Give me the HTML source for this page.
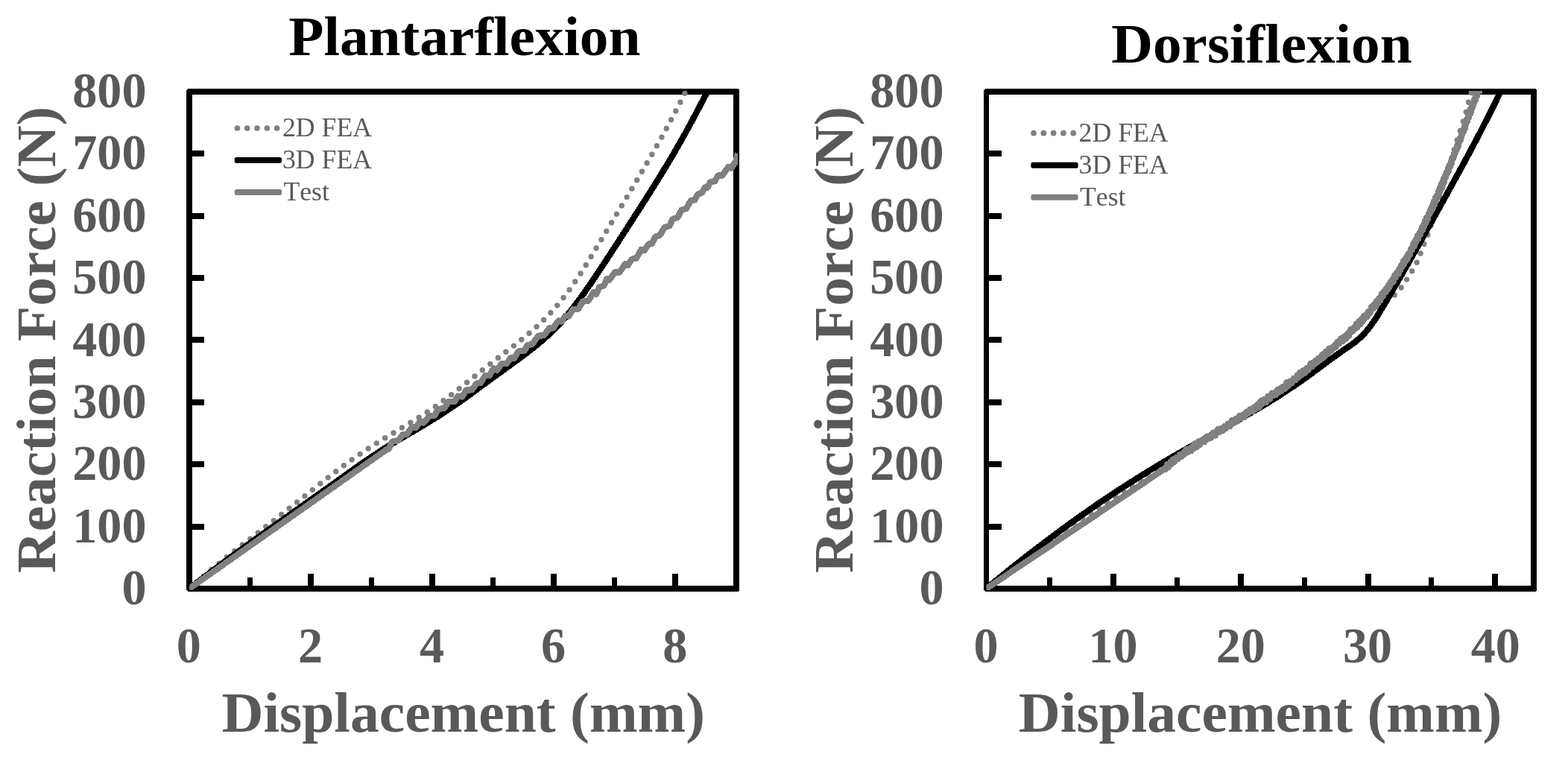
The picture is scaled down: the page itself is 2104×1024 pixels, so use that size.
<!DOCTYPE html>
<html lang="en">
<head>
<meta charset="utf-8">
<title>Plantarflexion and Dorsiflexion: Reaction Force vs Displacement</title>
<style>
html,body{margin:0;padding:0;background:#fff;}
body{width:2104px;height:1024px;overflow:hidden;}
svg{display:block;font-family:"Liberation Serif","Times New Roman",Times,serif;font-kerning:none;font-variant-ligatures:common-ligatures;}
</style>
</head>
<body>
<svg width="2104" height="1024" viewBox="0 0 2104 1024">
<rect width="2104" height="1024" fill="#fff"/>
<g>
<text transform="translate(623.4,74) scale(1,0.97)" font-size="77.3" font-weight="bold" fill="#000" text-anchor="middle">Plantarflexion</text>
<text transform="translate(74,455.8) rotate(-90) scale(1,0.97)" font-size="77.25" font-weight="bold" fill="#595959" text-anchor="middle">Reaction Force (N)</text>
<text transform="translate(621.7,982) scale(1,0.97)" font-size="77.6" font-weight="bold" fill="#595959" text-anchor="middle">Displacement (mm)</text>
<text transform="translate(196.5,811.0) scale(1,1.03)" font-size="66.2" font-weight="bold" fill="#595959" text-anchor="end">0</text>
<text transform="translate(196.5,727.6) scale(1,1.03)" font-size="66.2" font-weight="bold" fill="#595959" text-anchor="end">100</text>
<text transform="translate(196.5,644.2) scale(1,1.03)" font-size="66.2" font-weight="bold" fill="#595959" text-anchor="end">200</text>
<text transform="translate(196.5,560.9) scale(1,1.03)" font-size="66.2" font-weight="bold" fill="#595959" text-anchor="end">300</text>
<text transform="translate(196.5,477.5) scale(1,1.03)" font-size="66.2" font-weight="bold" fill="#595959" text-anchor="end">400</text>
<text transform="translate(196.5,394.1) scale(1,1.03)" font-size="66.2" font-weight="bold" fill="#595959" text-anchor="end">500</text>
<text transform="translate(196.5,310.8) scale(1,1.03)" font-size="66.2" font-weight="bold" fill="#595959" text-anchor="end">600</text>
<text transform="translate(196.5,227.4) scale(1,1.03)" font-size="66.2" font-weight="bold" fill="#595959" text-anchor="end">700</text>
<text transform="translate(196.5,144.0) scale(1,1.03)" font-size="66.2" font-weight="bold" fill="#595959" text-anchor="end">800</text>
<text transform="translate(236.8,889.2) scale(1,1.03)" font-size="66.2" font-weight="bold" fill="#595959">0</text>
<text transform="translate(399.9,889.2) scale(1,1.03)" font-size="66.2" font-weight="bold" fill="#595959">2</text>
<text transform="translate(563.1,889.2) scale(1,1.03)" font-size="66.2" font-weight="bold" fill="#595959">4</text>
<text transform="translate(725.9,889.2) scale(1,1.03)" font-size="66.2" font-weight="bold" fill="#595959">6</text>
<text transform="translate(889.2,889.2) scale(1,1.03)" font-size="66.2" font-weight="bold" fill="#595959">8</text>
<g shape-rendering="crispEdges" fill="#000">
<path fill-rule="evenodd" d="M250,121 L252,119 H990 L992,121 V792 L990,794 H252 L250,792 Z M258,127 V786 H984 V127 Z"/>
<rect x="254" y="703" width="20" height="8"/>
<rect x="254" y="619" width="20" height="8"/>
<rect x="254" y="536" width="20" height="8"/>
<rect x="254" y="452" width="20" height="8"/>
<rect x="254" y="369" width="20" height="8"/>
<rect x="254" y="286" width="20" height="8"/>
<rect x="254" y="202" width="20" height="8"/>
<rect x="413" y="770" width="8" height="18"/>
<rect x="576" y="770" width="8" height="18"/>
<rect x="739" y="770" width="8" height="18"/>
<rect x="902" y="770" width="8" height="18"/>
<rect x="332" y="775" width="7" height="13"/>
<rect x="495" y="775" width="7" height="13"/>
<rect x="658" y="775" width="7" height="13"/>
<rect x="821" y="775" width="7" height="13"/>
</g>
<clipPath id="clip0"><rect x="254.0" y="122" width="736.0" height="670"/></clipPath>
<g clip-path="url(#clip0)" fill="none" shape-rendering="crispEdges">
<path d="M918.9,125.3 L917.8,127.5 L916.7,129.7 L915.6,132.0 L914.4,134.2 L913.3,136.4 L912.2,138.6 L911.1,140.8 L909.9,143.0 L908.8,145.2 L907.6,147.4 L906.5,149.5 L905.3,151.7 L904.2,153.9 L903.0,156.1 L901.9,158.3 L900.7,160.4 L899.6,162.6 L898.4,164.8 L897.2,166.9 L896.1,169.1 L894.9,171.3 L893.7,173.4 L892.5,175.6 L891.3,177.7 L890.2,179.9 L889.0,182.0 L887.8,184.2 L886.6,186.3 L885.4,188.4 L884.2,190.6 L883.0,192.7 L881.8,194.8 L880.6,197.0 L879.4,199.1 L878.2,201.2 L877.0,203.3 L875.8,205.5 L874.6,207.6 L873.3,209.7 L872.1,211.8 L870.9,213.9 L869.7,216.0 L868.5,218.2 L867.2,220.3 L866.0,222.4 L864.8,224.5 L863.6,226.6 L862.3,228.7 L861.1,230.8 L859.9,232.9 L858.6,235.0 L857.4,237.1 L856.2,239.2 L854.9,241.3 L853.7,243.4 L852.5,245.5 L851.2,247.6 L850.0,249.6 L848.7,251.7 L847.5,253.8 L846.2,255.9 L845.0,258.0 L843.8,260.1 L842.5,262.2 L841.3,264.3 L840.0,266.3 L838.8,268.4 L837.5,270.5 L836.3,272.6 L835.0,274.7 L833.8,276.8 L832.5,278.8 L831.3,280.9 L830.0,283.0 L828.8,285.1 L827.5,287.2 L826.3,289.3 L825.0,291.3 L823.8,293.4 L822.5,295.5 L821.3,297.6 L820.0,299.7 L818.8,301.7 L817.5,303.8 L816.3,305.9 L815.0,308.0 L813.8,310.1 L812.5,312.1 L811.3,314.2 L810.0,316.3 L808.8,318.4 L807.5,320.5 L806.3,322.6 L805.0,324.7 L803.8,326.7 L802.5,328.8 L801.3,330.9 L800.0,333.0 L798.8,335.1 L797.5,337.2 L796.3,339.2 L795.0,341.3 L793.8,343.4 L792.5,345.5 L791.2,347.5 L790.0,349.6 L788.7,351.7 L787.4,353.7 L786.2,355.8 L784.9,357.8 L783.6,359.9 L782.3,361.9 L781.0,364.0 L779.7,366.0 L778.4,368.0 L777.1,370.0 L775.7,372.0 L774.4,374.0 L773.1,376.0 L771.7,378.0 L770.4,380.0 L769.0,382.0 L767.6,383.9 L766.3,385.9 L764.9,387.8 L763.5,389.7 L762.1,391.7 L760.6,393.6 L759.2,395.5 L757.8,397.4 L756.3,399.2 L754.8,401.1 L753.4,403.0 L751.9,404.8 L750.4,406.6 L748.9,408.5 L747.3,410.3 L745.8,412.0 L744.2,413.8 L742.7,415.6 L741.1,417.3 L739.5,419.1 L737.9,420.8 L736.3,422.5 L734.6,424.2 L733.0,425.9 L731.3,427.6 L729.7,429.2 L728.0,430.9 L726.3,432.5 L724.6,434.2 L722.9,435.8 L721.2,437.4 L719.4,439.0 L717.7,440.6 L715.9,442.2 L714.2,443.7 L712.4,445.3 L710.6,446.8 L708.8,448.4 L707.0,449.9 L705.2,451.4 L703.4,452.9 L701.5,454.4 L699.7,455.9 L697.8,457.4 L696.0,458.9 L694.1,460.4 L692.3,461.8 L690.4,463.3 L688.5,464.8 L686.7,466.2 L684.8,467.7 L682.9,469.1 L681.0,470.6 L679.1,472.0 L677.3,473.5 L675.4,474.9 L673.5,476.4 L671.6,477.8 L669.7,479.3 L667.8,480.7 L665.9,482.1 L664.0,483.6 L662.2,485.0 L660.3,486.5 L658.4,487.9 L656.5,489.4 L654.7,490.9 L652.8,492.3 L650.9,493.8 L649.1,495.3 L647.2,496.8 L645.4,498.2 L643.5,499.7 L641.7,501.2 L639.8,502.7 L637.9,504.2 L636.1,505.6 L634.2,507.1 L632.4,508.6 L630.5,510.1 L628.7,511.6 L626.8,513.0 L625.0,514.5 L623.1,516.0 L621.3,517.5 L619.4,519.0 L617.6,520.4 L615.7,521.9 L613.8,523.4 L612.0,524.8 L610.1,526.3 L608.2,527.7 L606.3,529.2 L604.4,530.6 L602.6,532.1 L600.7,533.5 L598.8,534.9 L596.9,536.4 L594.9,537.8 L593.0,539.2 L591.1,540.6 L589.2,542.0 L587.2,543.4 L585.3,544.8 L583.3,546.2 L581.4,547.5 L579.4,548.9 L577.4,550.3 L575.4,551.6 L573.4,552.9 L571.4,554.3 L569.4,555.6 L567.4,556.9 L565.4,558.2 L563.3,559.5 L561.3,560.8 L559.2,562.0 L557.2,563.3 L555.1,564.6 L553.0,565.9 L551.0,567.1 L548.9,568.4 L546.8,569.6 L544.7,570.9 L542.6,572.1 L540.6,573.4 L538.5,574.6 L536.4,575.9 L534.3,577.1 L532.2,578.4 L530.1,579.6 L528.1,580.9 L526.0,582.1 L523.9,583.4 L521.8,584.6 L519.8,585.9 L517.7,587.2 L515.6,588.4 L513.6,589.7 L511.5,591.0 L509.4,592.3 L507.4,593.5 L505.4,594.8 L503.3,596.1 L501.3,597.4 L499.2,598.7 L497.2,600.0 L495.2,601.3 L493.2,602.6 L491.2,603.9 L489.1,605.3 L487.1,606.6 L485.1,607.9 L483.2,609.3 L481.2,610.6 L479.2,612.0 L477.2,613.3 L475.3,614.7 L473.3,616.1 L471.3,617.5 L469.4,618.9 L467.5,620.2 L465.5,621.6 L463.6,623.1 L461.7,624.5 L459.8,625.9 L457.9,627.3 L456.0,628.7 L454.1,630.2 L452.2,631.6 L450.3,633.1 L448.4,634.5 L446.5,636.0 L444.6,637.4 L442.8,638.9 L440.9,640.3 L439.0,641.8 L437.2,643.3 L435.3,644.7 L433.4,646.2 L431.6,647.7 L429.7,649.1 L427.8,650.6 L426.0,652.1 L424.1,653.6 L422.3,655.0 L420.4,656.5 L418.6,658.0 L416.7,659.5 L414.8,660.9 L413.0,662.4 L411.1,663.9 L409.3,665.4 L407.4,666.8 L405.6,668.3 L403.7,669.8 L401.9,671.3 L400.0,672.8 L398.2,674.2 L396.3,675.7 L394.4,677.2 L392.6,678.7 L390.7,680.1 L388.9,681.6 L387.0,683.1 L385.1,684.6 L383.3,686.0 L381.4,687.5 L379.6,689.0 L377.7,690.4 L375.8,691.9 L374.0,693.4 L372.1,694.8 L370.2,696.3 L368.4,697.8 L366.5,699.2 L364.6,700.7 L362.7,702.1 L360.9,703.6 L359.0,705.1 L357.1,706.5 L355.3,708.0 L353.4,709.4 L351.5,710.9 L349.6,712.3 L347.8,713.8 L345.9,715.3 L344.0,716.7 L342.1,718.2 L340.3,719.6 L338.4,721.1 L336.5,722.6 L334.6,724.0 L332.8,725.5 L330.9,726.9 L329.0,728.4 L327.1,729.9 L325.3,731.3 L323.4,732.8 L321.5,734.2 L319.7,735.7 L317.8,737.2 L315.9,738.6 L314.1,740.1 L312.2,741.6 L310.4,743.1 L308.5,744.5 L306.6,746.0 L304.8,747.5 L302.9,749.0 L301.1,750.4 L299.2,751.9 L297.4,753.4 L295.5,754.9 L293.7,756.4 L291.9,757.9 L290.0,759.4 L288.2,760.9 L286.4,762.4 L284.5,763.9 L282.7,765.4 L280.9,766.9 L279.1,768.4 L277.2,769.9 L275.4,771.4 L273.6,772.9 L271.8,774.5 L270.0,776.0 L268.2,777.5 L266.4,779.1 L264.6,780.6 L262.8,782.1 L261.0,783.7 L259.2,785.2 L257.4,786.8 L255.6,788.3 L253.9,789.9" stroke="#808080" stroke-width="7.4" stroke-linecap="round" stroke-dasharray="0 13.3" shape-rendering="geometricPrecision"/>
<path d="M254.1,790.1 L256.7,788.1 L259.2,786.1 L261.8,784.1 L264.4,782.0 L267.0,780.0 L269.6,778.0 L272.2,776.0 L274.8,774.1 L277.3,772.1 L280.0,770.1 L282.6,768.1 L285.2,766.1 L287.8,764.1 L290.4,762.2 L293.0,760.2 L295.6,758.2 L298.3,756.3 L300.9,754.3 L303.5,752.4 L306.2,750.4 L308.8,748.5 L311.4,746.5 L314.1,744.6 L316.7,742.6 L319.4,740.7 L322.0,738.7 L324.7,736.8 L327.3,734.9 L330.0,732.9 L332.6,731.0 L335.3,729.1 L337.9,727.2 L340.6,725.2 L343.3,723.3 L345.9,721.4 L348.6,719.5 L351.3,717.6 L354.0,715.6 L356.6,713.7 L359.3,711.8 L362.0,709.9 L364.7,708.0 L367.3,706.1 L370.0,704.2 L372.7,702.3 L375.4,700.4 L378.1,698.5 L380.7,696.6 L383.4,694.7 L386.1,692.8 L388.8,690.9 L391.5,688.9 L394.2,687.0 L396.8,685.1 L399.5,683.2 L402.2,681.3 L404.9,679.4 L407.6,677.5 L410.3,675.6 L413.0,673.7 L415.6,671.8 L418.3,669.9 L421.0,668.0 L423.7,666.1 L426.4,664.2 L429.1,662.3 L431.7,660.4 L434.4,658.5 L437.1,656.6 L439.8,654.7 L442.5,652.8 L445.1,650.9 L447.8,649.0 L450.5,647.0 L453.2,645.1 L455.8,643.2 L458.5,641.3 L461.2,639.4 L463.8,637.5 L466.5,635.6 L469.2,633.6 L471.9,631.7 L474.5,629.8 L477.2,627.9 L479.9,626.0 L482.6,624.1 L485.3,622.2 L488.0,620.4 L490.7,618.5 L493.4,616.6 L496.2,614.8 L498.9,612.9 L501.7,611.1 L504.4,609.3 L507.2,607.5 L510.0,605.7 L512.8,603.9 L515.6,602.1 L518.4,600.3 L521.3,598.6 L524.1,596.9 L527.0,595.1 L529.9,593.4 L532.8,591.7 L535.6,590.0 L538.5,588.3 L541.4,586.6 L544.3,584.9 L547.2,583.2 L550.1,581.5 L553.0,579.8 L555.9,578.1 L558.8,576.4 L561.6,574.7 L564.5,573.0 L567.4,571.3 L570.2,569.6 L573.1,567.8 L575.9,566.1 L578.8,564.3 L581.6,562.6 L584.4,560.8 L587.2,559.1 L590.1,557.3 L592.8,555.5 L595.6,553.7 L598.4,551.9 L601.2,550.0 L603.9,548.2 L606.7,546.4 L609.4,544.5 L612.1,542.7 L614.8,540.8 L617.5,538.9 L620.2,537.0 L622.9,535.1 L625.6,533.1 L628.2,531.2 L630.9,529.3 L633.5,527.3 L636.1,525.4 L638.8,523.4 L641.4,521.5 L644.1,519.5 L646.7,517.6 L649.4,515.7 L652.0,513.7 L654.7,511.8 L657.3,509.9 L660.0,507.9 L662.6,506.0 L665.3,504.1 L668.0,502.2 L670.6,500.2 L673.3,498.3 L675.9,496.4 L678.6,494.5 L681.3,492.5 L683.9,490.6 L686.6,488.7 L689.2,486.7 L691.9,484.8 L694.5,482.9 L697.2,480.9 L699.8,478.9 L702.4,477.0 L705.0,475.0 L707.6,473.0 L710.2,471.0 L712.8,469.0 L715.3,467.0 L717.9,464.9 L720.4,462.9 L722.9,460.8 L725.4,458.7 L727.9,456.6 L730.3,454.5 L732.8,452.3 L735.2,450.1 L737.6,447.9 L739.9,445.7 L742.3,443.4 L744.6,441.1 L746.8,438.8 L749.1,436.5 L751.3,434.1 L753.5,431.7 L755.7,429.3 L757.8,426.9 L759.9,424.4 L762.0,421.9 L764.1,419.4 L766.1,416.9 L768.2,414.3 L770.2,411.7 L772.2,409.1 L774.1,406.5 L776.1,403.9 L778.0,401.2 L780.0,398.6 L781.9,395.9 L783.8,393.2 L785.7,390.5 L787.6,387.8 L789.4,385.1 L791.3,382.4 L793.2,379.7 L795.0,376.9 L796.9,374.2 L798.7,371.4 L800.5,368.7 L802.4,365.9 L804.2,363.2 L806.0,360.4 L807.9,357.7 L809.7,354.9 L811.5,352.1 L813.3,349.4 L815.1,346.6 L817.0,343.8 L818.8,341.1 L820.6,338.3 L822.4,335.5 L824.2,332.7 L826.0,330.0 L827.8,327.2 L829.6,324.4 L831.4,321.6 L833.2,318.8 L835.1,316.1 L836.9,313.3 L838.7,310.5 L840.5,307.7 L842.2,304.9 L844.0,302.1 L845.8,299.3 L847.6,296.5 L849.4,293.7 L851.2,290.9 L853.0,288.2 L854.8,285.4 L856.6,282.6 L858.4,279.8 L860.2,277.0 L862.0,274.2 L863.8,271.4 L865.6,268.6 L867.3,265.8 L869.1,263.0 L870.9,260.2 L872.7,257.3 L874.4,254.5 L876.2,251.7 L878.0,248.9 L879.7,246.1 L881.5,243.2 L883.3,240.4 L885.0,237.6 L886.8,234.7 L888.5,231.9 L890.2,229.0 L892.0,226.2 L893.7,223.3 L895.4,220.5 L897.2,217.6 L898.9,214.7 L900.6,211.9 L902.3,209.0 L904.0,206.1 L905.7,203.2 L907.4,200.3 L909.0,197.4 L910.7,194.5 L912.4,191.6 L914.0,188.6 L915.7,185.7 L917.3,182.7 L919.0,179.8 L920.6,176.8 L922.2,173.9 L923.8,170.9 L925.5,167.9 L927.1,165.0 L928.7,162.0 L930.3,159.0 L931.9,156.0 L933.5,153.0 L935.0,150.0 L936.6,147.0 L938.2,144.0 L939.8,141.0 L941.4,138.0 L943.0,135.0 L944.6,132.0 L946.1,129.0 L947.7,126.0 L949.3,123.0 L950.9,120.0 L952.5,117.0" stroke="#000" stroke-width="8.3" stroke-linejoin="round"/>
<path d="M254.0,790.0 L516.0,605.3 L517.9,603.8 L518.3,603.3 L518.8,603.0 L519.3,602.9 L519.8,602.8 L520.2,603.0 L520.7,603.1 L521.2,603.0 L521.7,602.0 L522.2,601.0 L522.7,600.0 L523.2,598.9 L523.7,597.9 L524.2,596.9 L524.8,595.9 L525.3,594.8 L525.8,593.8 L526.3,592.8 L526.9,592.5 L527.4,592.4 L527.9,592.3 L528.5,592.2 L529.0,592.1 L529.6,592.0 L530.1,591.9 L530.7,591.8 L531.2,591.7 L531.8,591.6 L532.3,591.6 L532.9,591.5 L533.4,591.4 L534.0,591.3 L534.6,591.3 L535.1,590.5 L535.7,589.8 L536.2,589.0 L536.8,588.2 L537.4,587.4 L538.0,586.6 L538.5,585.9 L539.1,585.1 L539.7,584.3 L540.2,583.6 L540.8,582.9 L541.4,583.0 L542.0,583.0 L542.5,583.1 L543.1,583.1 L543.7,583.2 L544.3,583.2 L544.8,583.3 L545.4,583.3 L546.0,583.0 L546.6,582.1 L547.2,581.3 L547.7,580.5 L548.3,579.7 L548.9,578.8 L549.5,578.0 L550.0,577.2 L550.6,576.4 L551.2,575.5 L551.8,574.7 L552.3,573.9 L552.9,573.3 L553.5,573.3 L554.1,573.4 L554.6,573.4 L555.2,573.5 L555.8,573.5 L556.4,573.6 L556.9,573.7 L557.5,573.7 L558.1,573.8 L558.6,573.3 L559.2,572.4 L559.8,571.5 L560.4,570.6 L560.9,569.6 L561.5,568.7 L562.1,567.8 L562.7,566.9 L563.2,566.0 L563.8,565.8 L564.4,566.0 L565.0,566.2 L565.5,566.5 L566.1,566.7 L566.7,567.0 L567.3,567.2 L567.8,567.5 L568.4,567.4 L569.0,566.7 L569.6,566.1 L570.1,565.4 L570.7,564.8 L571.3,564.1 L571.8,563.4 L572.4,562.8 L573.0,562.1 L573.6,561.5 L574.1,560.8 L574.7,560.1 L575.3,559.5 L575.9,558.8 L576.4,558.2 L577.0,558.1 L577.6,558.1 L578.2,558.1 L578.7,558.1 L579.3,558.1 L579.9,558.1 L580.5,558.1 L581.0,558.1 L581.6,558.1 L582.2,558.1 L582.8,558.1 L583.3,557.7 L583.9,556.7 L584.5,555.6 L585.1,554.5 L585.6,553.5 L586.2,552.4 L586.8,551.4 L587.4,550.3 L587.9,549.2 L588.5,549.1 L589.1,549.0 L589.7,548.9 L590.3,548.8 L590.8,548.7 L591.4,548.6 L592.0,548.5 L592.6,548.3 L593.1,548.2 L593.7,548.1 L594.3,548.0 L594.9,547.9 L595.5,547.8 L596.0,547.7 L596.6,547.1 L597.2,546.3 L597.8,545.5 L598.3,544.7 L598.9,543.9 L599.5,543.1 L600.1,542.3 L600.7,541.5 L601.2,540.7 L601.8,539.9 L602.4,539.1 L603.0,539.0 L603.6,539.0 L604.2,539.0 L604.7,539.0 L605.3,539.1 L605.9,539.1 L606.5,539.1 L607.1,539.2 L607.6,539.2 L608.2,539.2 L608.8,539.3 L609.4,539.3 L610.0,538.7 L610.6,537.7 L611.2,536.8 L611.7,535.8 L612.3,534.9 L612.9,533.9 L613.5,533.0 L614.1,532.0 L614.7,531.6 L615.3,531.7 L615.8,531.8 L616.4,531.9 L617.0,532.0 L617.6,532.1 L618.2,532.2 L618.8,532.3 L619.4,532.4 L619.9,532.5 L620.5,531.7 L621.1,530.7 L621.7,529.8 L622.3,528.9 L622.9,527.9 L623.5,527.0 L624.0,526.1 L624.6,525.1 L625.2,524.2 L625.8,523.5 L626.4,523.5 L626.9,523.5 L627.5,523.5 L628.1,523.5 L628.7,523.5 L629.2,523.4 L629.8,523.4 L630.4,523.4 L631.0,523.4 L631.5,523.4 L632.1,523.3 L632.7,523.3 L633.2,523.1 L633.8,522.3 L634.4,521.5 L634.9,520.8 L635.5,520.0 L636.1,519.3 L636.6,518.5 L637.2,517.7 L637.7,516.9 L638.3,516.2 L638.8,515.4 L639.4,514.6 L639.9,514.5 L640.5,514.5 L641.0,514.4 L641.5,514.3 L642.1,514.3 L642.6,514.2 L643.1,514.1 L643.7,514.1 L644.2,514.0 L644.7,513.9 L645.2,513.4 L645.8,512.6 L646.3,511.7 L646.8,510.9 L647.3,510.1 L647.8,509.3 L648.3,508.4 L648.8,507.6 L649.3,506.8 L649.9,506.0 L650.4,505.1 L650.9,504.3 L651.4,504.0 L651.9,504.0 L652.5,504.0 L653.0,504.0 L653.5,504.0 L654.1,504.1 L654.6,504.1 L655.2,504.1 L655.7,504.2 L656.3,504.2 L656.8,504.0 L657.4,503.0 L657.9,502.0 L658.5,501.0 L659.1,500.0 L659.6,499.0 L660.2,498.0 L660.8,497.0 L661.3,496.0 L661.9,495.0 L662.5,494.4 L663.1,494.7 L663.6,495.0 L664.2,495.4 L664.8,495.7 L665.4,496.1 L666.0,496.4 L666.5,496.8 L667.1,496.8 L667.7,495.9 L668.3,495.0 L668.9,494.1 L669.4,493.2 L670.0,492.3 L670.6,491.5 L671.2,490.6 L671.8,489.7 L672.4,488.8 L672.9,488.1 L673.5,488.1 L674.1,488.1 L674.7,488.1 L675.3,488.1 L675.8,488.1 L676.4,488.1 L677.0,488.1 L677.6,488.1 L678.2,488.1 L678.7,488.1 L679.3,488.0 L679.9,487.8 L680.5,487.0 L681.0,486.2 L681.6,485.4 L682.2,484.6 L682.8,483.8 L683.3,483.1 L683.9,482.3 L684.5,481.5 L685.0,480.7 L685.6,480.3 L686.2,480.4 L686.8,480.6 L687.3,480.8 L687.9,480.9 L688.5,481.1 L689.0,481.3 L689.6,481.3 L690.2,480.4 L690.7,479.5 L691.3,478.6 L691.9,477.6 L692.4,476.7 L693.0,475.8 L693.6,474.9 L694.1,474.0 L694.7,473.1 L695.2,472.2 L695.8,471.5 L696.4,471.4 L696.9,471.4 L697.5,471.3 L698.1,471.3 L698.6,471.2 L699.2,471.2 L699.7,471.1 L700.3,471.1 L700.9,471.0 L701.4,471.0 L702.0,470.9 L702.5,470.8 L703.1,470.8 L703.6,470.7 L704.2,470.0 L704.8,468.9 L705.3,467.8 L705.9,466.7 L706.4,465.6 L707.0,464.5 L707.5,463.4 L708.1,463.1 L708.6,463.0 L709.2,462.9 L709.8,462.8 L710.3,462.7 L710.9,462.6 L711.4,462.5 L712.0,462.4 L712.5,462.3 L713.1,462.2 L713.6,462.1 L714.2,461.9 L714.7,461.1 L715.3,460.3 L715.8,459.6 L716.4,458.8 L717.0,458.0 L717.5,457.3 L718.1,456.5 L718.6,455.7 L719.2,454.9 L719.7,454.2 L720.3,453.4 L720.8,452.6 L721.4,451.9 L721.9,451.1 L722.5,450.7 L723.0,450.7 L723.6,450.6 L724.1,450.6 L724.7,450.6 L725.2,450.5 L725.8,450.5 L726.3,450.5 L726.9,450.4 L727.4,450.4 L728.0,450.3 L728.5,450.3 L729.1,450.3 L729.6,450.2 L730.2,449.6 L730.7,448.9 L731.3,448.2 L731.8,447.5 L732.4,446.8 L732.9,446.0 L733.5,445.3 L734.0,444.6 L734.6,443.9 L735.1,443.1 L735.7,442.4 L736.2,441.7 L736.8,441.0 L737.3,440.4 L737.9,440.4 L738.4,440.4 L739.0,440.4 L739.6,440.4 L740.1,440.4 L740.7,440.4 L741.2,440.4 L741.8,440.4 L742.3,440.3 L742.9,439.6 L743.4,438.8 L744.0,438.0 L744.5,437.2 L745.1,436.4 L745.6,435.6 L746.2,434.8 L746.7,434.1 L747.3,433.3 L747.9,432.5 L748.4,431.7 L749.0,430.9 L749.5,430.4 L750.1,430.6 L750.6,430.7 L751.2,430.9 L751.7,431.0 L752.3,431.2 L752.9,431.3 L753.4,431.5 L754.0,430.9 L754.5,430.0 L755.1,429.2 L755.7,428.3 L756.2,427.5 L756.8,426.6 L757.3,425.8 L757.9,424.9 L758.5,424.0 L759.0,423.7 L759.6,423.8 L760.1,423.9 L760.7,424.0 L761.3,424.1 L761.8,424.2 L762.4,424.3 L762.9,424.5 L763.5,423.9 L764.1,423.0 L764.6,422.1 L765.2,421.2 L765.8,420.3 L766.3,419.4 L766.9,418.4 L767.4,417.5 L768.0,416.6 L768.5,415.7 L769.1,415.1 L769.6,415.1 L770.2,415.1 L770.8,415.0 L771.3,415.0 L771.9,414.9 L772.4,414.9 L772.9,414.9 L773.5,414.8 L774.0,414.8 L774.6,414.7 L775.1,414.7 L775.6,414.6 L776.2,414.4 L776.7,413.5 L777.3,412.5 L777.8,411.6 L778.3,410.6 L778.9,409.6 L779.4,408.7 L779.9,407.7 L780.5,406.8 L781.0,405.8 L781.5,404.9 L782.1,404.6 L782.6,404.5 L783.1,404.5 L783.7,404.4 L784.2,404.4 L784.7,404.3 L785.3,404.3 L785.8,404.2 L786.4,404.2 L786.9,404.1 L787.5,404.1 L788.0,404.0 L788.5,404.0 L789.1,403.9 L789.6,403.3 L790.2,402.4 L790.7,401.5 L791.3,400.6 L791.8,399.8 L792.4,398.9 L792.9,398.0 L793.4,397.1 L794.0,396.2 L794.5,395.3 L795.0,394.4 L795.6,393.5 L796.1,392.7 L796.6,392.3 L797.1,392.8 L797.7,393.2 L798.2,393.7 L798.7,394.1 L799.2,394.5 L799.7,394.9 L800.2,394.4 L800.7,393.3 L801.2,392.2 L801.7,391.1 L802.2,390.0 L802.6,388.8 L803.1,387.7 L803.6,386.6 L804.1,385.5 L804.6,385.2 L805.0,385.1 L805.5,385.0 L806.0,384.8 L806.5,384.7 L806.9,384.5 L807.4,384.4 L807.9,384.3 L808.3,384.1 L808.8,384.0 L809.3,383.9 L809.8,383.7 L810.2,383.6 L810.7,382.8 L811.2,381.6 L811.7,380.4 L812.2,379.2 L812.6,378.0 L813.1,376.8 L813.6,375.6 L814.1,374.4 L814.6,374.5 L815.1,374.6 L815.6,374.8 L816.1,375.0 L816.6,375.2 L817.2,375.4 L817.7,375.6 L818.2,374.9 L818.7,374.2 L819.3,373.4 L819.8,372.6 L820.3,371.9 L820.9,371.1 L821.4,370.3 L822.0,369.6 L822.5,368.8 L823.1,368.1 L823.6,367.3 L824.2,366.6 L824.7,365.8 L825.3,365.5 L825.9,365.5 L826.4,365.5 L827.0,365.5 L827.5,365.5 L828.1,365.5 L828.6,365.5 L829.2,365.5 L829.8,365.5 L830.3,365.5 L830.9,365.5 L831.4,365.5 L832.0,364.7 L832.5,363.9 L833.1,363.0 L833.6,362.2 L834.2,361.3 L834.7,360.5 L835.3,359.6 L835.8,358.8 L836.3,357.9 L836.9,357.1 L837.4,356.2 L838.0,355.4 L838.5,354.5 L839.1,354.2 L839.6,354.5 L840.2,354.8 L840.7,355.2 L841.2,355.5 L841.8,355.8 L842.3,356.1 L842.8,355.4 L843.4,354.6 L843.9,353.8 L844.5,353.0 L845.0,352.1 L845.5,351.3 L846.1,350.5 L846.6,349.7 L847.1,348.9 L847.7,348.1 L848.2,347.7 L848.7,347.6 L849.3,347.5 L849.8,347.4 L850.3,347.3 L850.8,347.2 L851.4,347.1 L851.9,347.1 L852.4,347.0 L853.0,346.9 L853.5,346.8 L854.0,346.3 L854.5,345.4 L855.1,344.5 L855.6,343.6 L856.1,342.7 L856.6,341.9 L857.1,341.0 L857.7,340.1 L858.2,339.2 L858.7,338.3 L859.2,337.4 L859.7,336.5 L860.3,335.6 L860.8,334.8 L861.3,334.9 L861.8,335.1 L862.3,335.3 L862.8,335.5 L863.4,335.7 L863.9,335.9 L864.4,336.1 L864.9,335.8 L865.4,335.1 L865.9,334.3 L866.4,333.5 L867.0,332.7 L867.5,332.0 L868.0,331.2 L868.5,330.4 L869.0,329.7 L869.5,328.9 L870.0,328.1 L870.5,327.4 L871.0,326.9 L871.5,326.9 L872.1,326.9 L872.6,326.9 L873.1,326.9 L873.6,326.9 L874.1,326.9 L874.6,327.0 L875.1,327.0 L875.6,325.8 L876.1,324.6 L876.6,323.5 L877.1,322.3 L877.6,321.1 L878.1,320.0 L878.6,318.8 L879.1,317.8 L879.6,317.6 L880.1,317.4 L880.6,317.3 L881.1,317.1 L881.6,316.9 L882.1,316.7 L882.6,316.6 L883.1,316.4 L883.6,316.2 L884.1,316.0 L884.6,315.8 L885.1,315.7 L885.6,315.5 L886.1,315.1 L886.6,314.2 L887.1,313.3 L887.6,312.4 L888.1,311.5 L888.6,310.6 L889.0,309.7 L889.5,308.8 L890.0,307.9 L890.5,307.0 L891.0,306.1 L891.5,305.5 L892.0,305.3 L892.5,305.1 L893.0,305.0 L893.5,304.8 L894.0,304.6 L894.5,304.4 L895.0,304.3 L895.4,304.1 L895.9,303.9 L896.4,303.8 L896.9,303.6 L897.4,303.4 L897.9,303.2 L898.4,303.1 L898.9,302.3 L899.4,301.2 L899.9,300.1 L900.3,298.9 L900.8,297.8 L901.3,296.7 L901.8,295.6 L902.3,294.4 L902.8,294.0 L903.3,293.8 L903.8,293.6 L904.3,293.5 L904.7,293.3 L905.2,293.2 L905.7,293.0 L906.2,292.8 L906.7,292.7 L907.2,292.5 L907.7,292.3 L908.2,292.2 L908.6,292.0 L909.1,291.8 L909.6,291.3 L910.1,290.4 L910.6,289.4 L911.1,288.5 L911.6,287.5 L912.1,286.6 L912.6,285.6 L913.0,284.7 L913.5,283.8 L914.0,282.8 L914.5,282.1 L915.0,281.9 L915.5,281.7 L916.0,281.5 L916.5,281.4 L916.9,281.2 L917.4,281.0 L917.9,280.8 L918.4,280.7 L918.9,280.5 L919.4,280.3 L919.9,280.2 L920.4,280.0 L920.9,279.8 L921.4,279.2 L921.8,278.3 L922.3,277.5 L922.8,276.6 L923.3,275.7 L923.8,274.8 L924.3,273.9 L924.8,273.0 L925.3,272.2 L925.8,271.3 L926.3,270.4 L926.8,269.5 L927.3,269.0 L927.7,268.9 L928.2,268.9 L928.7,268.8 L929.2,268.7 L929.7,268.6 L930.2,268.5 L930.7,268.4 L931.2,268.4 L931.7,268.3 L932.2,268.2 L932.7,267.8 L933.2,266.8 L933.7,265.7 L934.2,264.7 L934.7,263.7 L935.2,262.6 L935.7,261.6 L936.2,261.0 L936.7,260.8 L937.2,260.6 L937.7,260.3 L938.2,260.1 L938.7,259.9 L939.2,259.6 L939.7,259.4 L940.2,259.2 L940.7,259.0 L941.2,258.7 L941.7,258.5 L942.2,258.3 L942.7,257.8 L943.2,256.8 L943.7,255.8 L944.2,254.7 L944.7,253.7 L945.2,252.7 L945.7,251.6 L946.2,251.4 L946.7,251.4 L947.2,251.5 L947.7,251.6 L948.3,251.6 L948.8,251.7 L949.3,251.8 L949.8,250.9 L950.3,249.9 L950.8,248.8 L951.3,247.7 L951.8,246.6 L952.3,245.5 L952.9,244.5 L953.4,244.4 L953.9,244.3 L954.4,244.2 L954.9,244.1 L955.4,244.0 L956.0,243.9 L956.5,243.8 L957.0,243.7 L957.5,243.6 L958.0,243.5 L958.6,243.4 L959.1,243.3 L959.6,242.5 L960.1,241.5 L960.6,240.5 L961.2,239.5 L961.7,238.4 L962.2,237.4 L962.7,236.4 L963.3,235.5 L963.8,235.5 L964.3,235.5 L964.9,235.5 L965.4,235.5 L965.9,235.5 L966.4,235.5 L967.0,235.5 L967.5,235.5 L968.0,235.5 L968.6,235.5 L969.1,235.5 L969.6,234.9 L970.2,234.2 L970.7,233.4 L971.3,232.6 L971.8,231.8 L972.3,231.0 L972.9,230.2 L973.4,229.5 L974.0,228.7 L974.5,227.9 L975.0,227.1 L975.6,226.4 L976.1,225.6 L976.7,224.8 L977.2,224.0 L977.8,224.0 L978.3,224.3 L978.9,224.6 L979.4,224.9 L980.0,225.3 L980.5,225.6 L981.1,225.6 L981.6,224.8 L982.2,224.1 L982.7,223.3 L983.3,222.5 L983.8,221.7 L984.4,220.9 L985.0,220.1 L985.5,219.3 L986.1,218.6 L986.6,217.8 L987.2,217.0 L990.0,206.0" stroke="#808080" stroke-width="8.3" stroke-linejoin="round"/>
</g>
<g fill="#808080"><circle cx="318.4" cy="172.0" r="3.85"/><circle cx="331.7" cy="172.0" r="3.85"/><circle cx="345.0" cy="172.0" r="3.85"/><circle cx="358.3" cy="172.0" r="3.85"/><circle cx="371.6" cy="172.0" r="3.85"/></g>
<rect x="314.8" y="211.0" width="63.2" height="8" rx="2.5" fill="#000"/>
<rect x="314.8" y="254.0" width="63.2" height="8" rx="2.5" fill="#808080"/>
<text x="379.0" y="183.1" font-size="35.7" fill="#595959">2D FEA</text>
<text x="379.0" y="226.1" font-size="35.7" fill="#595959">3D FEA</text>
<text x="380.4" y="269.1" font-size="35.7" fill="#595959">Test</text>

</g>
<g>
<text transform="translate(1692.9,84) scale(1,0.97)" font-size="77.3" font-weight="bold" fill="#000" text-anchor="middle">Dorsiflexion</text>
<text transform="translate(1144,455.8) rotate(-90) scale(1,0.97)" font-size="77.25" font-weight="bold" fill="#595959" text-anchor="middle">Reaction Force (N)</text>
<text transform="translate(1691.1,982) scale(1,0.97)" font-size="77.6" font-weight="bold" fill="#595959" text-anchor="middle">Displacement (mm)</text>
<text transform="translate(1266.5,811.0) scale(1,1.03)" font-size="66.2" font-weight="bold" fill="#595959" text-anchor="end">0</text>
<text transform="translate(1266.5,727.6) scale(1,1.03)" font-size="66.2" font-weight="bold" fill="#595959" text-anchor="end">100</text>
<text transform="translate(1266.5,644.2) scale(1,1.03)" font-size="66.2" font-weight="bold" fill="#595959" text-anchor="end">200</text>
<text transform="translate(1266.5,560.9) scale(1,1.03)" font-size="66.2" font-weight="bold" fill="#595959" text-anchor="end">300</text>
<text transform="translate(1266.5,477.5) scale(1,1.03)" font-size="66.2" font-weight="bold" fill="#595959" text-anchor="end">400</text>
<text transform="translate(1266.5,394.1) scale(1,1.03)" font-size="66.2" font-weight="bold" fill="#595959" text-anchor="end">500</text>
<text transform="translate(1266.5,310.8) scale(1,1.03)" font-size="66.2" font-weight="bold" fill="#595959" text-anchor="end">600</text>
<text transform="translate(1266.5,227.4) scale(1,1.03)" font-size="66.2" font-weight="bold" fill="#595959" text-anchor="end">700</text>
<text transform="translate(1266.5,144.0) scale(1,1.03)" font-size="66.2" font-weight="bold" fill="#595959" text-anchor="end">800</text>
<text transform="translate(1306.5,889.2) scale(1,1.03)" font-size="66.2" font-weight="bold" fill="#595959">0</text>
<text transform="translate(1460.5,889.2) scale(1,1.03)" font-size="66.2" font-weight="bold" fill="#595959">10</text>
<text transform="translate(1631.7,889.2) scale(1,1.03)" font-size="66.2" font-weight="bold" fill="#595959">20</text>
<text transform="translate(1802.0,889.2) scale(1,1.03)" font-size="66.2" font-weight="bold" fill="#595959">30</text>
<text transform="translate(1973.7,889.2) scale(1,1.03)" font-size="66.2" font-weight="bold" fill="#595959">40</text>
<g shape-rendering="crispEdges" fill="#000">
<path fill-rule="evenodd" d="M1320,121 L1322,119 H2060 L2062,121 V792 L2060,794 H1322 L1320,792 Z M1327,127 V786 H2054 V127 Z"/>
<rect x="1324" y="703" width="20" height="8"/>
<rect x="1324" y="619" width="20" height="8"/>
<rect x="1324" y="536" width="20" height="8"/>
<rect x="1324" y="452" width="20" height="8"/>
<rect x="1324" y="369" width="20" height="8"/>
<rect x="1324" y="286" width="20" height="8"/>
<rect x="1324" y="202" width="20" height="8"/>
<rect x="1490" y="770" width="8" height="18"/>
<rect x="1661" y="770" width="8" height="18"/>
<rect x="1832" y="770" width="8" height="18"/>
<rect x="2002" y="770" width="8" height="18"/>
<rect x="1405" y="775" width="7" height="13"/>
<rect x="1576" y="775" width="7" height="13"/>
<rect x="1747" y="775" width="7" height="13"/>
<rect x="1917" y="775" width="7" height="13"/>
</g>
<clipPath id="clip1070"><rect x="1323.5" y="122" width="736.5" height="670"/></clipPath>
<g clip-path="url(#clip1070)" fill="none" shape-rendering="crispEdges">
<path d="M1323.5,790.0 L1325.8,788.3 L1328.1,786.5 L1330.4,784.8 L1332.7,783.1 L1334.9,781.3 L1337.2,779.6 L1339.5,777.9 L1341.8,776.1 L1344.1,774.4 L1346.4,772.7 L1348.7,770.9 L1351.0,769.2 L1353.3,767.5 L1355.6,765.8 L1357.9,764.1 L1360.2,762.3 L1362.6,760.6 L1364.9,758.9 L1367.2,757.2 L1369.5,755.5 L1371.8,753.8 L1374.1,752.1 L1376.4,750.4 L1378.8,748.7 L1381.1,747.0 L1383.4,745.3 L1385.7,743.6 L1388.1,741.9 L1390.4,740.2 L1392.7,738.5 L1395.1,736.8 L1397.4,735.1 L1399.7,733.4 L1402.1,731.7 L1404.4,730.0 L1406.8,728.3 L1409.1,726.7 L1411.4,725.0 L1413.8,723.3 L1416.1,721.6 L1418.5,720.0 L1420.9,718.3 L1423.2,716.6 L1425.6,715.0 L1427.9,713.3 L1430.3,711.6 L1432.7,710.0 L1435.0,708.3 L1437.4,706.7 L1439.8,705.0 L1442.2,703.4 L1444.6,701.7 L1446.9,700.1 L1449.3,698.5 L1451.7,696.8 L1454.1,695.2 L1456.5,693.6 L1458.9,691.9 L1461.3,690.3 L1463.7,688.7 L1466.1,687.1 L1468.5,685.5 L1470.9,683.8 L1473.3,682.2 L1475.8,680.6 L1478.2,679.0 L1480.6,677.4 L1483.0,675.8 L1485.5,674.2 L1487.9,672.6 L1490.3,671.0 L1492.8,669.5 L1495.2,667.9 L1497.7,666.3 L1500.1,664.7 L1502.6,663.1 L1505.0,661.6 L1507.5,660.0 L1509.9,658.5 L1512.4,656.9 L1514.9,655.3 L1517.4,653.8 L1519.8,652.2 L1522.3,650.7 L1524.8,649.2 L1527.3,647.6 L1529.8,646.1 L1532.3,644.6 L1534.8,643.0 L1537.3,641.5 L1539.8,640.0 L1542.3,638.5 L1544.8,637.0 L1547.3,635.5 L1549.8,633.9 L1552.4,632.4 L1554.9,631.0 L1557.4,629.5 L1560.0,628.0" stroke="#808080" stroke-width="7.4" stroke-linecap="round" stroke-dasharray="0 13.3" shape-rendering="geometricPrecision"/>
<path d="M1974.2,124.5 L1974.0,125.1 L1973.8,125.7 L1973.6,126.3 L1973.4,127.0 L1973.2,127.7 L1973.0,128.4 L1972.7,129.2 L1972.5,129.9 L1972.3,130.7 L1972.1,131.5 L1971.8,132.4 L1971.6,133.2 L1971.4,134.1 L1971.1,135.0 L1970.9,136.0 L1970.6,137.1 L1970.4,138.2 L1970.1,139.3 L1969.9,140.4 L1969.6,141.6 L1969.4,142.7 L1969.1,143.8 L1968.8,144.9 L1968.5,146.0 L1968.3,147.0 L1968.0,148.0 L1967.7,149.0 L1967.4,150.0 L1967.1,150.9 L1966.8,151.9 L1966.5,152.8 L1966.2,153.8 L1965.8,154.7 L1965.5,155.7 L1965.2,156.6 L1964.9,157.6 L1964.6,158.6 L1964.3,159.6 L1964.0,160.6 L1963.7,161.6 L1963.4,162.6 L1963.1,163.6 L1962.8,164.6 L1962.5,165.6 L1962.2,166.7 L1961.9,167.7 L1961.6,168.7 L1961.3,169.8 L1960.9,170.8 L1960.6,171.9 L1960.3,172.8 L1960.0,173.7 L1959.8,174.5 L1959.5,175.3 L1959.2,176.1 L1958.9,176.9 L1958.6,177.8 L1958.3,178.9 L1957.9,180.0 L1957.4,181.3 L1956.9,182.9 L1956.3,184.6 L1955.3,187.9 L1953.2,194.5 L1950.3,204.0 L1946.8,215.7 L1942.7,228.9 L1938.4,243.0 L1934.0,257.4 L1929.8,271.4 L1925.8,284.4 L1922.3,295.6 L1919.5,304.5 L1917.6,310.4 L1916.6,313.0 L1916.0,314.5 L1915.5,315.9 L1915.0,317.1 L1914.6,318.1 L1914.2,319.0 L1913.8,319.8 L1913.5,320.5 L1913.2,321.2 L1912.9,321.9 L1912.6,322.7 L1912.3,323.5 L1911.9,324.4 L1911.5,325.4 L1911.2,326.4 L1910.8,327.4 L1910.4,328.4 L1910.0,329.4 L1909.6,330.5 L1909.3,331.5 L1908.9,332.5 L1908.5,333.5 L1908.1,334.5 L1907.8,335.5 L1907.4,336.5 L1907.0,337.5 L1906.6,338.5 L1906.3,339.5 L1905.9,340.5 L1905.6,341.5 L1905.2,342.5 L1904.8,343.5 L1904.5,344.5 L1904.1,345.5 L1903.7,346.4 L1903.3,347.4 L1902.9,348.4 L1902.5,349.4 L1902.0,350.3 L1901.6,351.3 L1901.1,352.3 L1900.7,353.2 L1900.2,354.2 L1899.7,355.1 L1899.2,356.1 L1898.7,357.0 L1898.2,358.0 L1897.6,358.9 L1897.1,359.8 L1896.6,360.8 L1896.1,361.7 L1895.5,362.6 L1895.0,363.5 L1894.4,364.4 L1893.9,365.3 L1893.3,366.2 L1892.7,367.1 L1892.2,368.0 L1891.6,368.9 L1891.0,369.8 L1890.4,370.7 L1889.9,371.6 L1889.3,372.5 L1888.7,373.3 L1888.2,374.2 L1887.6,375.1 L1887.1,376.0 L1886.5,376.9 L1886.0,377.7 L1885.4,378.6 L1884.8,379.5 L1884.2,380.3 L1883.7,381.2 L1883.1,382.0 L1882.5,382.9 L1881.8,383.7 L1881.2,384.6 L1880.5,385.4 L1879.9,386.3 L1879.2,387.1 L1878.5,387.9 L1877.9,388.8 L1877.2,389.6 L1876.5,390.4 L1875.7,391.2 L1875.0,392.0 L1874.3,392.8 L1873.6,393.5 L1872.8,394.3 L1872.1,395.0 L1871.3,395.8 L1870.5,396.5 L1869.8,397.2 L1869.0,397.9 L1868.2,398.6 L1867.4,399.3 L1866.6,400.0 L1865.8,400.6 L1864.9,401.3 L1864.1,401.9 L1863.3,402.5 L1862.4,403.1 L1861.5,403.7 L1860.7,404.3 L1859.8,404.9 L1858.9,405.4 L1858.0,406.0 L1857.1,406.5 L1856.2,407.0 L1855.3,407.6 L1854.4,408.1 L1853.5,408.7 L1852.6,409.2 L1851.7,409.8 L1850.8,410.4 L1850.0,410.9 L1849.1,411.5 L1848.2,412.1 L1847.3,412.6 L1846.4,413.2 L1845.5,413.7 L1844.7,414.3 L1843.8,414.9 L1842.9,415.4 L1842.0,416.0" stroke="#808080" stroke-width="7.4" stroke-linecap="round" stroke-dasharray="0 13.3" shape-rendering="geometricPrecision"/>
<path d="M1323.4,789.9 L1325.3,788.4 L1327.2,786.8 L1329.1,785.3 L1330.9,783.7 L1332.8,782.2 L1334.7,780.7 L1336.6,779.1 L1338.5,777.6 L1340.4,776.0 L1342.2,774.5 L1344.1,773.0 L1346.0,771.4 L1347.9,769.9 L1349.8,768.4 L1351.7,766.8 L1353.6,765.3 L1355.5,763.8 L1357.4,762.3 L1359.3,760.8 L1361.2,759.2 L1363.1,757.7 L1365.0,756.2 L1366.9,754.7 L1368.9,753.2 L1370.8,751.7 L1372.7,750.2 L1374.6,748.7 L1376.5,747.2 L1378.5,745.7 L1380.4,744.2 L1382.3,742.7 L1384.2,741.2 L1386.2,739.7 L1388.1,738.2 L1390.0,736.7 L1392.0,735.2 L1393.9,733.7 L1395.9,732.3 L1397.8,730.8 L1399.8,729.3 L1401.7,727.8 L1403.7,726.4 L1405.6,724.9 L1407.6,723.4 L1409.5,721.9 L1411.5,720.5 L1413.4,719.0 L1415.4,717.6 L1417.4,716.1 L1419.3,714.6 L1421.3,713.2 L1423.3,711.7 L1425.3,710.3 L1427.2,708.8 L1429.2,707.4 L1431.2,706.0 L1433.2,704.5 L1435.2,703.1 L1437.2,701.6 L1439.1,700.2 L1441.1,698.8 L1443.1,697.4 L1445.1,695.9 L1447.1,694.5 L1449.1,693.1 L1451.1,691.7 L1453.2,690.3 L1455.2,688.8 L1457.2,687.4 L1459.2,686.0 L1461.2,684.6 L1463.2,683.2 L1465.3,681.8 L1467.3,680.4 L1469.3,679.0 L1471.3,677.6 L1473.4,676.2 L1475.4,674.8 L1477.4,673.5 L1479.5,672.1 L1481.5,670.7 L1483.6,669.3 L1485.6,667.9 L1487.7,666.6 L1489.7,665.2 L1491.8,663.8 L1493.8,662.5 L1495.9,661.1 L1498.0,659.7 L1500.0,658.4 L1502.1,657.0 L1504.2,655.7 L1506.3,654.3 L1508.3,653.0 L1510.4,651.6 L1512.5,650.3 L1514.6,649.0 L1516.7,647.6 L1518.8,646.3 L1520.9,645.0 L1523.0,643.7 L1525.1,642.3 L1527.2,641.0 L1529.3,639.7 L1531.4,638.4 L1533.5,637.1 L1535.6,635.8 L1537.7,634.4 L1539.8,633.1 L1542.0,631.8 L1544.1,630.5 L1546.2,629.3 L1548.4,628.0 L1550.5,626.7 L1552.6,625.4 L1554.8,624.1 L1556.9,622.8 L1559.1,621.6 L1561.2,620.3 L1563.4,619.0 L1565.5,617.7 L1567.7,616.5 L1569.8,615.2 L1572.0,614.0 L1574.2,612.7 L1576.4,611.5 L1578.5,610.2 L1580.7,609.0 L1582.9,607.7 L1585.1,606.5 L1587.2,605.2 L1589.4,604.0 L1591.6,602.8 L1593.8,601.5 L1596.0,600.3 L1598.2,599.1 L1600.4,597.8 L1602.6,596.6 L1604.8,595.4 L1607.0,594.1 L1609.2,592.9 L1611.4,591.7 L1613.6,590.5 L1615.8,589.2 L1618.0,588.0 L1620.2,586.8 L1622.4,585.6 L1624.6,584.3 L1626.8,583.1 L1629.0,581.9 L1631.2,580.7 L1633.4,579.5 L1635.6,578.2 L1637.8,577.0 L1640.0,575.8 L1642.2,574.6 L1644.4,573.3 L1646.6,572.1 L1648.8,570.9 L1651.0,569.6 L1653.1,568.4 L1655.3,567.2 L1657.5,565.9 L1659.7,564.7 L1661.9,563.5 L1664.1,562.2 L1666.3,561.0 L1668.4,559.7 L1670.6,558.5 L1672.8,557.2 L1675.0,556.0 L1677.1,554.7 L1679.3,553.5 L1681.5,552.2 L1683.6,550.9 L1685.8,549.7 L1687.9,548.4 L1690.1,547.1 L1692.2,545.9 L1694.4,544.6 L1696.5,543.3 L1698.6,542.0 L1700.8,540.7 L1702.9,539.4 L1705.0,538.1 L1707.1,536.8 L1709.2,535.5 L1711.4,534.2 L1713.5,532.9 L1715.6,531.5 L1717.7,530.2 L1719.7,528.9 L1721.8,527.5 L1723.9,526.2 L1726.0,524.8 L1728.0,523.5 L1730.1,522.1 L1732.2,520.7 L1734.2,519.4 L1736.3,518.0 L1738.3,516.6 L1740.3,515.2 L1742.4,513.8 L1744.4,512.4 L1746.4,511.0 L1748.4,509.6 L1750.4,508.2 L1752.4,506.7 L1754.4,505.3 L1756.4,503.9 L1758.3,502.4 L1760.3,501.0 L1762.3,499.5 L1764.2,498.0 L1766.2,496.6 L1768.2,495.1 L1770.1,493.7 L1772.1,492.2 L1774.0,490.7 L1776.0,489.3 L1778.0,487.8 L1779.9,486.3 L1781.9,484.9 L1783.9,483.4 L1785.8,482.0 L1787.8,480.5 L1789.8,479.1 L1791.8,477.7 L1793.8,476.2 L1795.8,474.8 L1797.8,473.4 L1799.8,472.0 L1801.8,470.6 L1803.9,469.2 L1805.9,467.8 L1807.9,466.4 L1810.0,465.0 L1812.0,463.6 L1814.0,462.2 L1815.9,460.7 L1817.9,459.3 L1819.8,457.8 L1821.7,456.2 L1823.5,454.6 L1825.4,453.0 L1827.1,451.3 L1828.8,449.6 L1830.5,447.9 L1832.1,446.1 L1833.7,444.2 L1835.2,442.4 L1836.8,440.5 L1838.3,438.5 L1839.7,436.6 L1841.1,434.6 L1842.5,432.5 L1843.9,430.5 L1845.3,428.4 L1846.6,426.4 L1848.0,424.3 L1849.3,422.2 L1850.6,420.0 L1851.9,417.9 L1853.2,415.8 L1854.4,413.6 L1855.7,411.5 L1857.0,409.3 L1858.3,407.2 L1859.6,405.0 L1860.8,402.9 L1862.1,400.7 L1863.4,398.6 L1864.6,396.4 L1865.9,394.3 L1867.2,392.1 L1868.4,390.0 L1869.7,387.8 L1871.0,385.6 L1872.2,383.5 L1873.5,381.3 L1874.7,379.1 L1876.0,377.0 L1877.2,374.8 L1878.5,372.6 L1879.7,370.5 L1881.0,368.3 L1882.2,366.1 L1883.5,363.9 L1884.7,361.8 L1886.0,359.6 L1887.2,357.4 L1888.5,355.2 L1889.7,353.0 L1891.0,350.9 L1892.2,348.7 L1893.4,346.5 L1894.7,344.3 L1895.9,342.1 L1897.1,339.9 L1898.4,337.7 L1899.6,335.5 L1900.8,333.4 L1902.1,331.2 L1903.3,329.0 L1904.5,326.8 L1905.8,324.6 L1907.0,322.4 L1908.2,320.2 L1909.5,318.0 L1910.7,315.8 L1911.9,313.6 L1913.1,311.4 L1914.4,309.2 L1915.6,307.0 L1916.8,304.8 L1918.0,302.6 L1919.3,300.4 L1920.5,298.2 L1921.7,296.0 L1922.9,293.8 L1924.2,291.6 L1925.4,289.4 L1926.6,287.2 L1927.8,285.0 L1929.1,282.8 L1930.3,280.6 L1931.5,278.4 L1932.7,276.2 L1933.9,274.0 L1935.2,271.8 L1936.4,269.6 L1937.6,267.4 L1938.8,265.2 L1940.0,263.0 L1941.3,260.8 L1942.5,258.6 L1943.7,256.4 L1944.9,254.2 L1946.1,252.0 L1947.3,249.8 L1948.6,247.5 L1949.8,245.3 L1951.0,243.1 L1952.2,240.9 L1953.4,238.7 L1954.6,236.5 L1955.8,234.3 L1957.1,232.1 L1958.3,229.8 L1959.5,227.6 L1960.7,225.4 L1961.9,223.2 L1963.1,221.0 L1964.3,218.8 L1965.5,216.5 L1966.7,214.3 L1967.9,212.1 L1969.1,209.9 L1970.3,207.6 L1971.5,205.4 L1972.7,203.2 L1973.8,200.9 L1975.0,198.7 L1976.2,196.5 L1977.4,194.2 L1978.6,192.0 L1979.8,189.7 L1981.0,187.5 L1982.1,185.2 L1983.3,183.0 L1984.5,180.7 L1985.7,178.5 L1986.8,176.2 L1988.0,174.0 L1989.2,171.7 L1990.3,169.5 L1991.5,167.2 L1992.6,164.9 L1993.8,162.7 L1995.0,160.4 L1996.1,158.1 L1997.3,155.9 L1998.4,153.6 L1999.5,151.3 L2000.7,149.0 L2001.8,146.7 L2003.0,144.4 L2004.1,142.2 L2005.2,139.9 L2006.4,137.6 L2007.5,135.3 L2008.6,133.0 L2009.7,130.7 L2010.8,128.4 L2011.9,126.0 L2013.1,123.7 L2014.2,121.4 L2015.3,119.1 L2016.4,116.8" stroke="#000" stroke-width="8.3" stroke-linejoin="round"/>
<path d="M1323.5,790.0 L1561.0,630.4 L1562.8,628.8 L1563.1,628.6 L1563.5,628.6 L1563.9,629.0 L1564.3,629.6 L1564.7,629.0 L1565.0,627.4 L1565.4,625.4 L1565.8,623.4 L1566.2,622.9 L1566.6,623.7 L1566.9,624.6 L1567.3,625.5 L1567.7,626.4 L1568.1,627.1 L1568.5,625.9 L1568.9,624.8 L1569.3,623.6 L1569.6,622.4 L1570.0,621.3 L1570.4,620.1 L1570.8,619.7 L1571.2,620.4 L1571.6,621.1 L1572.0,621.9 L1572.4,622.6 L1572.8,621.4 L1573.2,619.6 L1573.6,617.9 L1573.9,616.5 L1574.3,617.2 L1574.7,617.8 L1575.1,618.5 L1575.5,619.2 L1575.9,619.9 L1576.3,619.2 L1576.7,618.3 L1577.1,617.4 L1577.5,616.5 L1577.9,615.6 L1578.3,614.7 L1578.7,613.8 L1579.1,614.0 L1579.5,614.6 L1579.9,615.1 L1580.3,615.7 L1580.7,616.3 L1581.1,615.9 L1581.5,614.7 L1581.9,613.6 L1582.3,612.4 L1582.7,611.3 L1583.1,610.1 L1583.5,609.9 L1583.9,610.5 L1584.3,611.0 L1584.7,611.6 L1585.2,612.1 L1585.6,612.7 L1586.0,612.2 L1586.4,610.9 L1586.8,609.7 L1587.2,608.4 L1587.6,607.3 L1588.0,607.8 L1588.4,608.4 L1588.8,609.0 L1589.2,609.6 L1589.6,609.5 L1590.0,607.8 L1590.5,606.1 L1590.9,604.5 L1591.3,603.3 L1591.7,603.8 L1592.1,604.3 L1592.5,604.8 L1592.9,605.3 L1593.3,605.7 L1593.7,606.2 L1594.2,606.7 L1594.6,605.7 L1595.0,604.2 L1595.4,602.7 L1595.8,601.9 L1596.2,602.5 L1596.6,603.0 L1597.1,603.6 L1597.5,604.2 L1597.9,604.7 L1598.3,605.3 L1598.7,603.3 L1599.1,601.2 L1599.6,599.1 L1600.0,599.0 L1600.4,600.4 L1600.8,601.8 L1601.2,602.6 L1601.6,601.2 L1602.1,599.9 L1602.5,598.6 L1602.9,597.3 L1603.3,595.9 L1603.7,595.0 L1604.2,596.3 L1604.6,597.6 L1605.0,598.9 L1605.4,600.2 L1605.8,599.8 L1606.2,598.5 L1606.7,597.3 L1607.1,596.0 L1607.5,594.8 L1607.9,593.6 L1608.4,592.3 L1608.8,592.7 L1609.2,594.3 L1609.6,595.9 L1610.0,596.9 L1610.5,595.9 L1610.9,595.0 L1611.3,594.0 L1611.7,593.1 L1612.1,592.2 L1612.6,591.2 L1613.0,590.3 L1613.4,590.3 L1613.8,590.8 L1614.3,591.3 L1614.7,591.8 L1615.1,592.3 L1615.5,592.8 L1616.0,593.3 L1616.4,592.6 L1616.8,591.5 L1617.2,590.4 L1617.6,589.3 L1618.1,588.2 L1618.5,587.2 L1618.9,586.2 L1619.3,587.3 L1619.8,588.3 L1620.2,589.4 L1620.6,588.9 L1621.0,587.6 L1621.5,586.3 L1621.9,584.9 L1622.3,585.1 L1622.7,585.5 L1623.2,585.9 L1623.6,586.3 L1624.0,586.8 L1624.4,587.2 L1624.9,587.6 L1625.3,587.6 L1625.7,586.5 L1626.1,585.4 L1626.6,584.3 L1627.0,583.1 L1627.4,582.0 L1627.8,580.9 L1628.3,580.6 L1628.7,581.3 L1629.1,582.1 L1629.6,582.8 L1630.0,583.6 L1630.4,584.4 L1630.8,584.5 L1631.3,583.3 L1631.7,582.1 L1632.1,580.9 L1632.5,579.7 L1633.0,578.5 L1633.4,577.3 L1633.8,576.1 L1634.2,576.5 L1634.7,577.0 L1635.1,577.5 L1635.5,578.1 L1635.9,578.6 L1636.4,579.1 L1636.8,579.6 L1637.2,578.6 L1637.6,577.6 L1638.1,576.6 L1638.5,575.6 L1638.9,574.8 L1639.3,575.5 L1639.8,576.1 L1640.2,576.7 L1640.6,577.3 L1641.0,578.0 L1641.5,577.6 L1641.9,575.8 L1642.3,574.0 L1642.8,572.2 L1643.2,572.6 L1643.6,573.1 L1644.0,573.7 L1644.5,574.3 L1644.9,574.9 L1645.3,574.0 L1645.7,573.1 L1646.2,572.2 L1646.6,571.2 L1647.0,570.3 L1647.4,569.4 L1647.9,568.7 L1648.3,569.3 L1648.7,569.8 L1649.1,570.4 L1649.5,571.0 L1650.0,571.5 L1650.4,572.0 L1650.8,570.6 L1651.2,569.3 L1651.7,567.9 L1652.1,566.6 L1652.5,565.3 L1652.9,564.3 L1653.4,564.8 L1653.8,565.2 L1654.2,565.7 L1654.6,566.2 L1655.1,566.6 L1655.5,567.1 L1655.9,567.6 L1656.3,567.0 L1656.7,566.2 L1657.2,565.3 L1657.6,564.4 L1658.0,563.5 L1658.4,562.7 L1658.8,561.8 L1659.3,562.3 L1659.7,563.3 L1660.1,564.4 L1660.5,565.4 L1661.0,564.0 L1661.4,562.6 L1661.8,561.3 L1662.2,559.9 L1662.6,558.5 L1663.1,558.1 L1663.5,558.9 L1663.9,559.7 L1664.3,560.5 L1664.7,561.4 L1665.1,561.3 L1665.6,560.6 L1666.0,559.8 L1666.4,559.0 L1666.8,558.2 L1667.2,557.5 L1667.6,556.7 L1668.1,556.5 L1668.5,557.3 L1668.9,558.0 L1669.3,558.7 L1669.7,559.4 L1670.1,560.0 L1670.6,558.7 L1671.0,557.3 L1671.4,555.9 L1671.8,554.6 L1672.2,553.2 L1672.6,552.6 L1673.1,553.0 L1673.5,553.3 L1673.9,553.7 L1674.3,554.0 L1674.7,554.4 L1675.1,554.7 L1675.5,554.2 L1675.9,553.2 L1676.4,552.2 L1676.8,551.2 L1677.2,550.2 L1677.6,549.2 L1678.0,549.4 L1678.4,549.9 L1678.8,550.4 L1679.2,550.8 L1679.7,551.3 L1680.1,551.8 L1680.5,552.3 L1680.9,552.4 L1681.3,550.5 L1681.7,548.7 L1682.1,546.9 L1682.5,546.7 L1682.9,547.4 L1683.4,548.1 L1683.8,548.8 L1684.2,549.5 L1684.6,549.4 L1685.0,548.0 L1685.4,546.5 L1685.8,545.1 L1686.2,543.6 L1686.6,543.4 L1687.0,543.9 L1687.4,544.5 L1687.9,545.0 L1688.3,545.5 L1688.7,546.1 L1689.1,546.6 L1689.5,546.6 L1689.9,544.9 L1690.3,543.2 L1690.7,541.5 L1691.1,539.8 L1691.5,538.5 L1691.9,539.3 L1692.3,540.1 L1692.8,541.0 L1693.2,541.8 L1693.6,541.9 L1694.0,540.7 L1694.4,539.6 L1694.8,538.4 L1695.2,537.2 L1695.6,536.1 L1696.0,536.3 L1696.4,537.0 L1696.8,537.6 L1697.2,538.2 L1697.6,538.9 L1698.0,539.5 L1698.5,540.2 L1698.9,539.7 L1699.3,538.4 L1699.7,537.1 L1700.1,535.7 L1700.5,534.4 L1700.9,533.1 L1701.3,531.8 L1701.7,532.2 L1702.1,532.9 L1702.5,533.6 L1702.9,534.3 L1703.3,535.0 L1703.7,535.7 L1704.1,535.5 L1704.5,534.2 L1705.0,532.9 L1705.4,531.6 L1705.8,530.2 L1706.2,528.9 L1706.6,527.6 L1707.0,527.9 L1707.4,528.8 L1707.8,529.6 L1708.2,530.4 L1708.6,531.2 L1709.0,530.4 L1709.4,529.2 L1709.8,528.0 L1710.2,526.8 L1710.6,526.5 L1711.0,527.4 L1711.4,528.2 L1711.9,529.0 L1712.3,529.8 L1712.7,529.1 L1713.1,527.1 L1713.5,525.2 L1713.9,523.2 L1714.3,523.6 L1714.7,524.0 L1715.1,524.4 L1715.5,524.8 L1715.9,525.2 L1716.3,525.7 L1716.7,525.8 L1717.1,524.3 L1717.5,522.8 L1717.9,521.3 L1718.3,521.2 L1718.8,522.5 L1719.2,523.7 L1719.6,524.9 L1720.0,523.6 L1720.4,522.0 L1720.8,520.4 L1721.2,518.7 L1721.6,518.8 L1722.0,519.3 L1722.4,519.8 L1722.8,520.3 L1723.2,520.8 L1723.6,521.3 L1724.0,521.8 L1724.4,520.4 L1724.8,519.0 L1725.2,517.5 L1725.6,516.0 L1726.0,514.6 L1726.4,513.2 L1726.8,514.9 L1727.2,516.7 L1727.6,518.4 L1728.0,518.7 L1728.4,517.4 L1728.8,516.1 L1729.2,514.7 L1729.6,513.4 L1730.0,512.1 L1730.4,511.9 L1730.8,512.4 L1731.2,512.9 L1731.6,513.3 L1732.0,513.8 L1732.4,514.3 L1732.8,514.7 L1733.2,514.2 L1733.6,513.2 L1734.0,512.3 L1734.4,511.3 L1734.8,510.4 L1735.2,509.4 L1735.6,508.5 L1736.0,507.7 L1736.4,508.1 L1736.8,508.6 L1737.2,509.1 L1737.6,509.5 L1738.0,510.0 L1738.4,510.1 L1738.8,509.0 L1739.2,507.9 L1739.6,506.9 L1740.0,505.8 L1740.4,504.7 L1740.7,503.7 L1741.1,504.9 L1741.5,506.0 L1741.9,507.1 L1742.3,506.5 L1742.7,505.0 L1743.1,503.4 L1743.5,501.8 L1743.9,500.2 L1744.3,500.3 L1744.7,501.1 L1745.1,502.0 L1745.4,502.8 L1745.8,503.6 L1746.2,503.6 L1746.6,502.5 L1747.0,501.3 L1747.4,500.1 L1747.8,498.9 L1748.2,497.7 L1748.6,497.1 L1749.0,497.6 L1749.3,498.1 L1749.7,498.5 L1750.1,499.0 L1750.5,499.5 L1750.9,500.0 L1751.3,500.5 L1751.7,499.6 L1752.1,498.3 L1752.5,497.0 L1752.8,495.7 L1753.2,494.4 L1753.6,493.7 L1754.0,494.2 L1754.4,494.8 L1754.8,495.4 L1755.2,496.0 L1755.6,496.5 L1755.9,496.4 L1756.3,495.1 L1756.7,493.7 L1757.1,492.3 L1757.5,491.0 L1757.9,489.6 L1758.3,488.2 L1758.6,488.7 L1759.0,489.8 L1759.4,491.0 L1759.8,492.2 L1760.2,492.2 L1760.6,490.9 L1761.0,489.7 L1761.4,488.4 L1761.7,487.2 L1762.1,486.5 L1762.5,487.2 L1762.9,487.9 L1763.3,488.6 L1763.7,489.3 L1764.1,489.2 L1764.4,488.1 L1764.8,486.9 L1765.2,485.7 L1765.6,484.5 L1766.0,483.4 L1766.4,483.6 L1766.8,484.4 L1767.1,485.3 L1767.5,486.1 L1767.9,485.1 L1768.3,483.6 L1768.7,482.1 L1769.1,480.6 L1769.5,480.9 L1769.8,481.4 L1770.2,481.9 L1770.6,482.4 L1771.0,483.0 L1771.4,483.5 L1771.8,483.0 L1772.2,482.0 L1772.6,480.9 L1772.9,479.8 L1773.3,478.8 L1773.7,477.7 L1774.1,476.6 L1774.5,475.6 L1774.9,476.2 L1775.3,476.9 L1775.6,477.6 L1776.0,478.3 L1776.4,479.0 L1776.8,479.2 L1777.2,478.0 L1777.6,476.8 L1778.0,475.6 L1778.4,474.3 L1778.7,473.1 L1779.1,471.9 L1779.5,472.0 L1779.9,472.7 L1780.3,473.4 L1780.7,474.0 L1781.1,474.7 L1781.4,475.4 L1781.8,474.2 L1782.2,472.6 L1782.6,471.0 L1783.0,469.4 L1783.4,467.8 L1783.8,468.4 L1784.1,469.0 L1784.5,469.6 L1784.9,470.2 L1785.3,470.8 L1785.7,471.4 L1786.1,470.2 L1786.5,468.9 L1786.8,467.7 L1787.2,466.4 L1787.6,466.2 L1788.0,466.6 L1788.4,467.0 L1788.8,467.4 L1789.1,467.8 L1789.5,466.9 L1789.9,465.7 L1790.3,464.6 L1790.7,463.4 L1791.1,463.6 L1791.4,464.2 L1791.8,464.8 L1792.2,465.4 L1792.6,465.5 L1793.0,464.2 L1793.3,462.9 L1793.7,461.6 L1794.1,460.4 L1794.5,459.1 L1794.9,458.4 L1795.2,459.0 L1795.6,459.5 L1796.0,460.0 L1796.4,460.6 L1796.7,461.1 L1797.1,461.2 L1797.5,460.2 L1797.9,459.1 L1798.2,458.1 L1798.6,457.0 L1799.0,456.0 L1799.4,454.9 L1799.7,454.0 L1800.1,454.8 L1800.5,455.6 L1800.9,456.4 L1801.2,457.2 L1801.6,458.0 L1802.0,457.6 L1802.4,456.4 L1802.7,455.1 L1803.1,453.9 L1803.5,452.6 L1803.8,451.5 L1804.2,452.1 L1804.6,452.6 L1804.9,453.2 L1805.3,453.8 L1805.7,454.4 L1806.0,455.0 L1806.4,454.0 L1806.8,452.8 L1807.1,451.6 L1807.5,450.4 L1807.9,449.2 L1808.2,448.0 L1808.6,447.3 L1808.9,448.4 L1809.3,449.5 L1809.7,450.7 L1810.0,450.9 L1810.4,449.6 L1810.8,448.3 L1811.1,447.0 L1811.5,445.7 L1811.8,444.4 L1812.2,443.2 L1812.5,442.0 L1812.9,442.5 L1813.3,442.9 L1813.6,443.3 L1814.0,443.7 L1814.3,444.2 L1814.7,444.6 L1815.0,444.4 L1815.4,443.5 L1815.7,442.5 L1816.1,441.6 L1816.4,440.7 L1816.8,439.7 L1817.2,438.8 L1817.5,438.8 L1817.9,439.6 L1818.2,440.4 L1818.6,441.2 L1818.9,440.3 L1819.3,438.1 L1819.6,436.0 L1819.9,434.8 L1820.3,436.1 L1820.6,437.4 L1821.0,438.7 L1821.3,439.2 L1821.7,437.7 L1822.0,436.3 L1822.4,434.8 L1822.7,433.3 L1823.1,431.9 L1823.4,431.3 L1823.7,432.1 L1824.1,432.9 L1824.4,433.7 L1824.8,434.5 L1825.1,435.3 L1825.5,435.0 L1825.8,433.3 L1826.1,431.7 L1826.5,430.1 L1826.8,428.4 L1827.1,428.0 L1827.5,428.9 L1827.8,429.7 L1828.2,430.6 L1828.5,431.5 L1828.8,430.4 L1829.2,428.7 L1829.5,426.9 L1829.8,425.1 L1830.2,423.6 L1830.5,424.7 L1830.8,425.8 L1831.2,426.9 L1831.5,427.1 L1831.8,425.9 L1832.2,424.8 L1832.5,423.6 L1832.8,422.5 L1833.1,421.7 L1833.5,422.6 L1833.8,423.5 L1834.1,424.4 L1834.5,425.3 L1834.8,423.8 L1835.1,422.3 L1835.4,420.8 L1835.8,419.3 L1836.1,417.9 L1836.4,418.2 L1836.7,418.6 L1837.1,418.9 L1837.4,419.2 L1837.7,419.5 L1838.0,419.9 L1838.4,420.1 L1838.7,418.7 L1839.0,417.3 L1839.3,415.9 L1839.6,414.4 L1840.0,413.0 L1840.3,411.6 L1840.6,411.9 L1840.9,412.4 L1841.2,413.0 L1841.6,413.5 L1841.9,414.0 L1842.2,414.5 L1842.5,413.8 L1842.8,411.9 L1843.1,410.0 L1843.4,408.5 L1843.8,409.1 L1844.1,409.6 L1844.4,410.2 L1844.7,410.8 L1845.0,411.3 L1845.3,411.9 L1845.6,410.6 L1845.9,408.7 L1846.3,406.8 L1846.6,404.9 L1846.9,404.3 L1847.2,404.6 L1847.5,404.9 L1847.8,405.2 L1848.1,405.5 L1848.4,405.8 L1848.7,406.1 L1849.0,406.1 L1849.3,404.7 L1849.6,403.2 L1850.0,401.8 L1850.3,400.4 L1850.6,400.2 L1850.9,400.9 L1851.2,401.6 L1851.5,402.2 L1851.8,402.9 L1852.1,403.6 L1852.4,402.5 L1852.7,400.9 L1853.0,399.2 L1853.3,397.6 L1853.6,396.0 L1853.9,394.3 L1854.2,394.7 L1854.5,395.3 L1854.8,395.9 L1855.1,396.5 L1855.4,397.1 L1855.7,397.7 L1856.0,396.8 L1856.3,395.3 L1856.5,393.8 L1856.8,392.3 L1857.1,390.9 L1857.4,391.2 L1857.7,391.4 L1858.0,391.7 L1858.3,391.9 L1858.6,392.2 L1858.9,392.4 L1859.2,392.1 L1859.5,390.7 L1859.8,389.2 L1860.1,387.7 L1860.3,387.0 L1860.6,387.4 L1860.9,387.7 L1861.2,388.0 L1861.5,388.3 L1861.8,388.6 L1862.1,388.6 L1862.4,387.0 L1862.6,385.5 L1862.9,384.0 L1863.2,382.4 L1863.5,383.3 L1863.8,384.2 L1864.1,385.1 L1864.4,385.4 L1864.6,384.3 L1864.9,383.1 L1865.2,381.9 L1865.5,380.8 L1865.8,379.6 L1866.0,378.4 L1866.3,378.0 L1866.6,378.4 L1866.9,378.8 L1867.2,379.2 L1867.4,379.6 L1867.7,379.7 L1868.0,378.5 L1868.3,377.3 L1868.6,376.1 L1868.8,374.9 L1869.1,375.2 L1869.4,376.3 L1869.7,377.4 L1869.9,378.1 L1870.2,376.6 L1870.5,375.1 L1870.8,373.7 L1871.0,372.2 L1871.3,370.7 L1871.6,369.2 L1871.8,369.5 L1872.1,370.6 L1872.4,371.7 L1872.7,372.7 L1872.9,372.0 L1873.2,370.9 L1873.5,369.8 L1873.7,368.7 L1874.0,367.6 L1874.3,366.5 L1874.5,365.4 L1874.8,365.1 L1875.1,365.5 L1875.4,365.9 L1875.6,366.4 L1875.9,366.8 L1876.1,367.2 L1876.4,367.6 L1876.7,367.7 L1876.9,365.4 L1877.2,363.1 L1877.5,360.8 L1877.7,360.7 L1878.0,361.1 L1878.3,361.5 L1878.5,361.9 L1878.8,362.3 L1879.0,362.8 L1879.3,361.5 L1879.6,360.1 L1879.8,358.7 L1880.1,357.3 L1880.3,355.9 L1880.6,356.4 L1880.9,356.9 L1881.1,357.4 L1881.4,358.0 L1881.6,357.3 L1881.9,356.1 L1882.2,354.8 L1882.4,353.5 L1882.7,352.3 L1882.9,351.0 L1883.2,350.1 L1883.4,351.8 L1883.7,353.4 L1883.9,355.1 L1884.2,354.7 L1884.5,353.4 L1884.7,352.0 L1885.0,350.7 L1885.2,349.4 L1885.5,348.0 L1885.7,348.8 L1886.0,349.6 L1886.2,350.4 L1886.5,350.2 L1886.7,348.5 L1887.0,346.7 L1887.2,344.9 L1887.5,344.8 L1887.7,345.7 L1888.0,346.6 L1888.2,347.5 L1888.5,348.1 L1888.7,346.5 L1889.0,345.0 L1889.2,343.5 L1889.5,341.9 L1889.7,340.4 L1889.9,340.2 L1890.2,340.6 L1890.4,341.0 L1890.7,341.3 L1890.9,341.7 L1891.2,342.1 L1891.4,342.4 L1891.7,342.3 L1891.9,341.0 L1892.1,339.6 L1892.4,338.3 L1892.6,337.0 L1892.9,335.7 L1893.1,334.4 L1893.4,334.4 L1893.6,334.6 L1893.8,334.8 L1894.1,334.9 L1894.3,335.1 L1894.6,335.3 L1894.8,335.5 L1895.0,334.8 L1895.3,333.5 L1895.5,332.2 L1895.7,330.9 L1896.0,329.6 L1896.2,328.3 L1896.5,327.0 L1896.7,327.4 L1896.9,328.0 L1897.2,328.6 L1897.4,329.2 L1897.6,329.8 L1897.9,330.4 L1898.1,329.7 L1898.3,328.4 L1898.6,327.1 L1898.8,325.8 L1899.0,324.5 L1899.3,323.2 L1899.5,321.9 L1899.7,322.0 L1900.0,322.3 L1900.2,322.7 L1900.4,323.1 L1900.7,323.5 L1900.9,323.1 L1901.1,321.6 L1901.4,320.0 L1901.6,318.5 L1901.8,317.0 L1902.0,316.7 L1902.3,317.8 L1902.5,318.9 L1902.7,320.1 L1903.0,320.8 L1903.2,319.5 L1903.4,318.3 L1903.6,317.1 L1903.9,315.9 L1904.1,314.7 L1904.3,313.5 L1904.6,312.8 L1904.8,313.1 L1905.0,313.4 L1905.2,313.7 L1905.5,314.0 L1905.7,314.4 L1905.9,314.7 L1906.1,314.0 L1906.4,312.8 L1906.6,311.6 L1906.8,310.5 L1907.0,309.3 L1907.2,308.1 L1907.5,307.0 L1907.7,305.9 L1907.9,306.4 L1908.1,306.8 L1908.4,307.2 L1908.6,307.7 L1908.8,308.1 L1909.0,308.6 L1909.2,308.1 L1909.5,306.5 L1909.7,305.0 L1909.9,303.4 L1910.1,301.8 L1910.3,301.3 L1910.6,301.9 L1910.8,302.5 L1911.0,303.1 L1911.2,303.7 L1911.4,302.9 L1911.6,301.0 L1911.9,299.0 L1912.1,297.1 L1912.3,295.6 L1912.5,296.6 L1912.7,297.6 L1912.9,298.6 L1913.2,299.6 L1913.4,299.2 L1913.6,297.5 L1913.8,295.8 L1914.0,294.0 L1914.2,292.3 L1914.4,292.3 L1914.7,292.6 L1914.9,292.9 L1915.1,293.2 L1915.3,293.5 L1915.5,293.8 L1915.7,294.1 L1915.9,293.3 L1916.1,292.0 L1916.4,290.7 L1916.6,289.4 L1916.8,288.1 L1917.0,286.9 L1917.2,286.6 L1917.4,286.9 L1917.6,287.2 L1917.8,287.5 L1918.0,287.9 L1918.3,287.8 L1918.5,286.5 L1918.7,285.3 L1918.9,284.1 L1919.1,282.8 L1919.3,281.6 L1919.5,281.6 L1919.7,282.1 L1919.9,282.6 L1920.1,283.2 L1920.3,283.6 L1920.5,282.3 L1920.8,280.9 L1921.0,279.6 L1921.2,278.2 L1921.4,277.4 L1921.6,278.1 L1921.8,278.8 L1922.0,279.5 L1922.2,280.2 L1922.4,280.1 L1922.6,278.7 L1922.8,277.3 L1923.0,275.9 L1923.2,274.4 L1923.4,273.0 L1923.6,271.6 L1923.8,270.5 L1924.0,271.4 L1924.2,272.4 L1924.4,273.3 L1924.6,274.2 L1924.8,275.1 L1925.0,273.5 L1925.2,271.8 L1925.4,270.1 L1925.7,268.4 L1925.9,266.7 L1926.1,265.3 L1926.3,266.7 L1926.5,268.0 L1926.7,269.4 L1926.9,270.0 L1927.1,268.6 L1927.3,267.1 L1927.5,265.6 L1927.7,264.1 L1927.9,262.7 L1928.1,261.9 L1928.3,262.4 L1928.5,262.8 L1928.7,263.3 L1928.9,263.8 L1929.0,264.2 L1929.2,264.7 L1929.4,263.9 L1929.6,262.6 L1929.8,261.3 L1930.0,260.0 L1930.2,258.7 L1930.4,257.4 L1930.6,256.1 L1930.8,256.3 L1931.0,256.9 L1931.2,257.5 L1931.4,258.1 L1931.6,258.7 L1931.8,257.0 L1932.0,254.8 L1932.2,252.5 L1932.4,251.1 L1932.6,251.7 L1932.8,252.2 L1933.0,252.8 L1933.2,253.3 L1933.4,253.9 L1933.6,253.6 L1933.8,252.1 L1933.9,250.6 L1934.1,249.1 L1934.3,247.6 L1934.5,246.2 L1934.7,245.3 L1934.9,245.8 L1935.1,246.3 L1935.3,246.9 L1935.5,247.4 L1935.7,247.9 L1935.9,248.4 L1936.1,247.7 L1936.3,245.6 L1936.5,243.6 L1936.6,241.5 L1936.8,240.3 L1937.0,241.3 L1937.2,242.2 L1937.4,243.2 L1937.6,244.2 L1937.8,244.5 L1938.0,242.8 L1938.2,241.2 L1938.4,239.5 L1938.5,237.9 L1938.7,236.2 L1938.9,235.9 L1939.1,236.1 L1939.3,236.4 L1939.5,236.6 L1939.7,236.8 L1939.9,237.0 L1940.1,237.2 L1940.3,236.6 L1940.4,235.3 L1940.6,234.0 L1940.8,232.7 L1941.0,231.4 L1941.2,232.1 L1941.4,232.9 L1941.6,233.7 L1941.8,233.6 L1941.9,232.6 L1942.1,231.5 L1942.3,230.4 L1942.5,229.3 L1942.7,228.2 L1942.9,227.1 L1943.1,226.3 L1943.2,227.4 L1943.4,228.4 L1943.6,229.5 L1943.8,229.7 L1944.0,228.1 L1944.2,226.5 L1944.4,224.9 L1944.5,223.3 L1944.7,221.6 L1944.9,221.8 L1945.1,222.3 L1945.3,222.8 L1945.5,223.3 L1945.7,223.8 L1945.8,224.3 L1946.0,223.6 L1946.2,221.8 L1946.4,220.1 L1946.6,218.4 L1946.8,217.2 L1946.9,217.8 L1947.1,218.4 L1947.3,219.0 L1947.5,219.6 L1947.7,220.1 L1947.9,218.9 L1948.0,217.7 L1948.2,216.4 L1948.4,215.2 L1948.6,214.0 L1948.8,212.8 L1949.0,211.6 L1949.1,211.4 L1949.3,211.7 L1949.5,211.9 L1949.7,212.2 L1949.9,212.5 L1950.1,212.7 L1950.2,212.5 L1950.4,211.4 L1950.6,210.2 L1950.8,209.1 L1951.0,207.9 L1951.1,206.8 L1951.3,205.7 L1951.5,204.8 L1951.7,205.2 L1951.9,205.6 L1952.0,206.0 L1952.2,206.5 L1952.4,205.9 L1952.6,204.9 L1952.8,203.9 L1952.9,203.0 L1953.1,202.0 L1953.3,201.0 L1953.5,200.0 L1953.7,199.8 L1953.8,200.3 L1954.0,200.7 L1954.2,201.2 L1954.4,201.6 L1954.6,200.6 L1954.7,199.6 L1954.9,198.6 L1955.1,197.6 L1955.3,196.5 L1955.5,195.5 L1955.6,194.5 L1955.8,194.6 L1956.0,195.1 L1956.2,195.7 L1956.4,196.3 L1956.5,196.8 L1956.7,195.1 L1956.9,193.2 L1957.1,191.2 L1957.2,189.3 L1957.4,189.4 L1957.6,189.8 L1957.8,190.2 L1958.0,190.6 L1958.1,191.0 L1958.3,190.4 L1958.5,189.2 L1958.7,188.1 L1958.8,186.9 L1959.0,185.8 L1959.2,184.6 L1959.4,185.0 L1959.6,186.0 L1959.7,187.0 L1959.9,187.9 L1960.1,187.7 L1960.3,186.4 L1960.4,185.0 L1960.6,183.6 L1960.8,182.3 L1961.0,180.9 L1961.1,179.5 L1961.3,179.1 L1961.5,179.5 L1961.7,180.0 L1961.9,180.4 L1962.0,180.8 L1962.2,180.1 L1962.4,179.0 L1962.6,178.0 L1962.7,176.9 L1962.9,175.8 L1963.1,174.8 L1963.3,174.1 L1963.4,174.6 L1963.6,175.1 L1963.8,175.5 L1964.0,176.0 L1964.1,176.5 L1964.3,175.7 L1964.5,174.5 L1964.7,173.2 L1964.8,172.0 L1965.0,170.8 L1965.2,169.6 L1965.4,168.7 L1965.5,169.6 L1965.7,170.6 L1965.9,171.5 L1966.1,171.2 L1966.2,169.1 L1966.4,166.9 L1966.6,164.8 L1966.8,165.4 L1966.9,166.3 L1967.1,167.1 L1967.3,166.8 L1967.5,165.0 L1967.6,163.2 L1967.8,161.4 L1968.0,160.3 L1968.2,160.7 L1968.3,161.0 L1968.5,161.4 L1968.7,161.8 L1968.9,162.2 L1969.0,162.6 L1969.2,161.7 L1969.4,160.4 L1969.6,159.1 L1969.7,157.8 L1969.9,156.5 L1970.1,155.2 L1970.3,155.8 L1970.4,156.7 L1970.6,157.6 L1970.8,158.2 L1971.0,157.1 L1971.1,156.0 L1971.3,154.9 L1971.5,153.7 L1971.7,152.6 L1971.8,151.5 L1972.0,151.3 L1972.2,151.8 L1972.4,152.3 L1972.5,152.8 L1972.7,152.8 L1972.9,150.7 L1973.1,148.5 L1973.2,146.3 L1973.4,146.7 L1973.6,147.5 L1973.7,148.3 L1973.9,149.0 L1974.1,149.8 L1974.3,148.6 L1974.4,147.0 L1974.6,145.4 L1974.8,143.8 L1975.0,142.3 L1975.1,141.1 L1975.3,141.6 L1975.5,142.1 L1975.7,142.5 L1975.8,143.0 L1976.0,143.5 L1976.2,143.8 L1976.4,142.1 L1976.5,140.3 L1976.7,138.5 L1976.9,137.2 L1977.1,138.1 L1977.2,138.9 L1977.4,139.8 L1977.6,138.9 L1977.7,137.8 L1977.9,136.7 L1978.1,135.5 L1978.3,134.4 L1978.4,133.3 L1978.6,132.2 L1978.8,132.4 L1979.0,132.8 L1979.1,133.2 L1979.3,133.7 L1979.5,134.1 L1979.7,134.5 L1979.8,134.6 L1980.0,133.0 L1980.2,131.4 L1980.4,129.8 L1980.5,128.2 L1980.7,126.6 L1980.9,126.0 L1981.1,126.5 L1981.2,126.9 L1981.4,127.4 L1981.6,127.8 L1981.8,128.3 L1981.9,128.7 L1982.1,129.0 L1982.3,126.9 L1982.4,124.8 L1982.6,122.7 L1982.8,120.6 L1983.0,120.2 L1983.1,120.8 L1983.3,121.4 L1983.5,122.0 L1983.7,122.6" stroke="#808080" stroke-width="8.3" stroke-linejoin="round"/>
</g>
<g fill="#808080"><circle cx="1387.0" cy="178.7" r="3.85"/><circle cx="1400.3" cy="178.7" r="3.85"/><circle cx="1413.6" cy="178.7" r="3.85"/><circle cx="1426.9" cy="178.7" r="3.85"/><circle cx="1440.2" cy="178.7" r="3.85"/></g>
<rect x="1383.4" y="217.7" width="63.2" height="8" rx="2.5" fill="#000"/>
<rect x="1383.4" y="260.7" width="63.2" height="8" rx="2.5" fill="#808080"/>
<text x="1447.6" y="189.8" font-size="35.7" fill="#595959">2D FEA</text>
<text x="1447.6" y="232.8" font-size="35.7" fill="#595959">3D FEA</text>
<text x="1449.0" y="275.8" font-size="35.7" fill="#595959">Test</text>
<rect x="1973" y="122" width="16" height="4" fill="#808080" shape-rendering="crispEdges"/>
</g>
</svg>
</body>
</html>
